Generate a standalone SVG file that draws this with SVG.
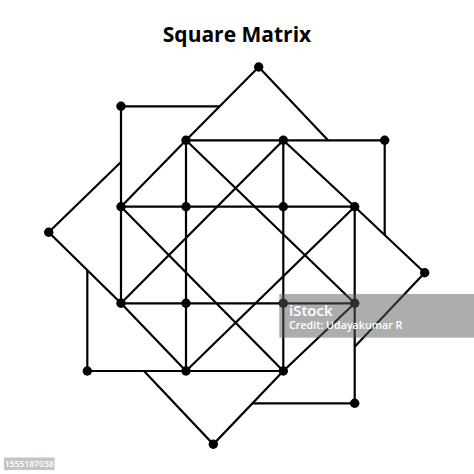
<svg xmlns="http://www.w3.org/2000/svg" width="474" height="474" viewBox="0 0 474 474">
<style>
.ln{stroke:#000;stroke-width:2.2;fill:none;stroke-linecap:butt}
.dot{fill:#000}
.title{font-family:"Open Sans","Liberation Sans",sans-serif;font-weight:bold;font-size:21px;fill:#000}
.wm{font-family:"Open Sans","Liberation Sans",sans-serif;fill:#fff}
</style>
<rect width="474" height="474" fill="#fff"/>
<text class="title" x="237" y="41.7" text-anchor="middle">Square Matrix</text>
<g id="connectors">
<!-- horizontals -->
<line class="ln" x1="121" y1="106.3" x2="219.4" y2="106.3"/>
<line class="ln" x1="186" y1="140.3" x2="384.7" y2="140.3"/>
<line class="ln" x1="121" y1="206.7" x2="354.7" y2="206.7"/>
<line class="ln" x1="121" y1="303.3" x2="354.7" y2="303.3"/>
<line class="ln" x1="87.3" y1="371" x2="283.3" y2="371"/>
<line class="ln" x1="252.5" y1="403.3" x2="354.7" y2="403.3"/>
<!-- verticals -->
<line class="ln" x1="121" y1="106.3" x2="121" y2="303.3"/>
<line class="ln" x1="186" y1="140.3" x2="186" y2="371"/>
<line class="ln" x1="283.3" y1="140.3" x2="283.3" y2="371"/>
<line class="ln" x1="354.7" y1="206.7" x2="354.7" y2="403.3"/>
<line class="ln" x1="384.7" y1="140.3" x2="384.7" y2="235"/>
<line class="ln" x1="87.3" y1="270.2" x2="87.3" y2="371"/>
<!-- outer diagonals -->
<polyline class="ln" points="121,206.7 186,140.3 258.7,67 328,140.3"/>
<polyline class="ln" points="283.3,140.3 354.7,206.7 424.7,272.7 354.7,346.7"/>
<polyline class="ln" points="354.7,303.3 283.3,371 213.3,444.3 144,371"/>
<polyline class="ln" points="186,371 121,303.3 48.7,232.3 121,162"/>
<!-- inner diagonals -->
<line class="ln" x1="186" y1="140.3" x2="354.7" y2="303.3"/>
<line class="ln" x1="283.3" y1="140.3" x2="121" y2="303.3"/>
<line class="ln" x1="121" y1="206.7" x2="283.3" y2="371"/>
<line class="ln" x1="354.7" y1="206.7" x2="186" y2="371"/>
</g>
<g id="n1"><circle class="dot" cx="258.7" cy="67" r="4.7"/></g>
<g id="n2"><circle class="dot" cx="121" cy="106.3" r="4.7"/></g>
<g id="n3"><circle class="dot" cx="186" cy="140.3" r="4.7"/></g>
<g id="n4"><circle class="dot" cx="283.3" cy="140.3" r="4.7"/></g>
<g id="n5"><circle class="dot" cx="384.7" cy="140.3" r="4.7"/></g>
<g id="n6"><circle class="dot" cx="121" cy="206.7" r="4.7"/></g>
<g id="n7"><circle class="dot" cx="186" cy="206.7" r="4.7"/></g>
<g id="n8"><circle class="dot" cx="283.3" cy="206.7" r="4.7"/></g>
<g id="n9"><circle class="dot" cx="354.7" cy="206.7" r="4.7"/></g>
<g id="n10"><circle class="dot" cx="48.7" cy="232.3" r="4.7"/></g>
<g id="n11"><circle class="dot" cx="424.7" cy="272.7" r="4.7"/></g>
<g id="n12"><circle class="dot" cx="121" cy="303.3" r="4.7"/></g>
<g id="n13"><circle class="dot" cx="186" cy="303.3" r="4.7"/></g>
<g id="n14"><circle class="dot" cx="283.3" cy="303.3" r="4.7"/></g>
<g id="n15"><circle class="dot" cx="354.7" cy="303.3" r="4.7"/></g>
<g id="n16"><circle class="dot" cx="87.3" cy="371" r="4.7"/></g>
<g id="n17"><circle class="dot" cx="186" cy="371" r="4.7"/></g>
<g id="n18"><circle class="dot" cx="283.3" cy="371" r="4.7"/></g>
<g id="n19"><circle class="dot" cx="354.7" cy="403.3" r="4.7"/></g>
<g id="n20"><circle class="dot" cx="213.3" cy="444.3" r="4.7"/></g>
<g id="watermark">
<rect x="279.3" y="294" width="194.7" height="43.7" fill="#5a5e5e" fill-opacity="0.5"/>
<text class="wm" x="289" y="315.5" font-size="15" font-weight="600">iStock</text>
<text class="wm" x="289" y="329" font-size="10.7" font-weight="600">Credit: Udayakumar R</text>
<rect x="4" y="457.5" width="50.5" height="12.5" fill="#c4c4c4"/>
<text class="wm" x="29.2" y="467.3" font-size="8.6" font-weight="600" text-anchor="middle">1555187038</text>
</g>
</svg>
